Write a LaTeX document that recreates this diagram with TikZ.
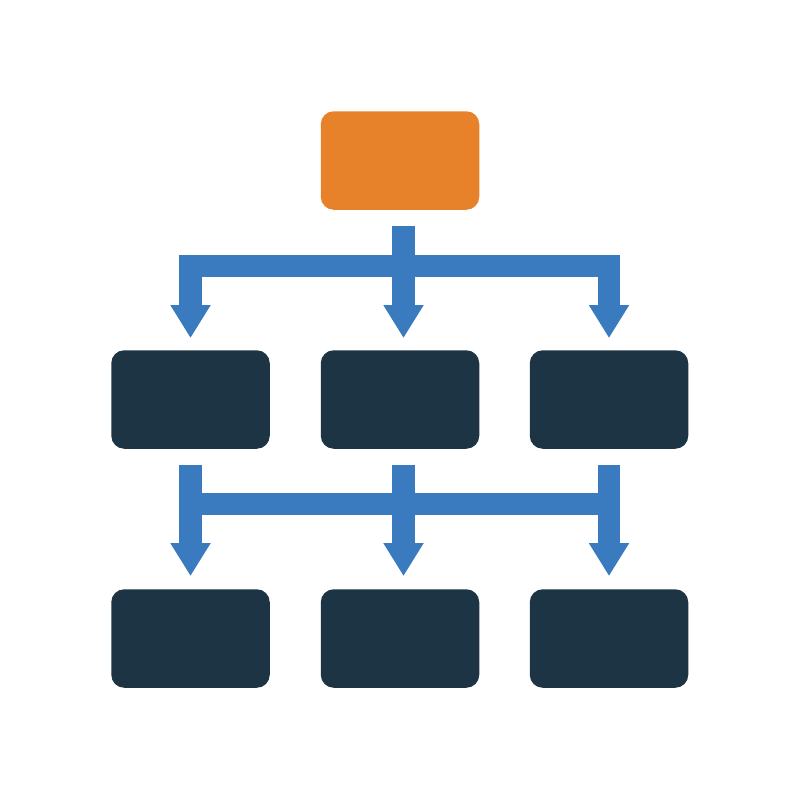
\documentclass[tikz,border=0pt]{standalone}
\usetikzlibrary{arrows.meta,calc}
\definecolor{boxorange}{HTML}{E8822A}
\definecolor{boxnavy}{HTML}{1D3445}
\definecolor{connblue}{HTML}{3A7BC0}
\begin{document}
\begin{tikzpicture}[x=1pt,y=-1pt,
  box/.style={rectangle,rounded corners=13pt,minimum width=158.5pt,minimum height=98.5pt,inner sep=0pt,draw=none},
  topbox/.style={box,fill=boxorange},
  subbox/.style={box,fill=boxnavy},
  conn/.style={draw=connblue,line width=22.6pt,line cap=butt,line join=miter},
  arrowconn/.style={conn,-{Triangle[width=38pt 0 0,length=33pt 0 0,fill=connblue]}}
]
\useasboundingbox[fill=white] (0,0) rectangle (800,800);
% boxes
\node[topbox] (top) at (400,160.5) {};
\node[subbox] (m1) at (190.5,399.5) {};
\node[subbox] (m2) at (400,399.5) {};
\node[subbox] (m3) at (609,399.5) {};
\node[subbox] (b1) at (190.5,638.5) {};
\node[subbox] (b2) at (400,638.5) {};
\node[subbox] (b3) at (609,638.5) {};
% first level connector
\coordinate (j1) at ([xshift=3.5pt]top.south |- 0,266);
\draw[arrowconn] ([xshift=3.5pt,yshift=-16pt]top.south) -- ([xshift=3.5pt,yshift=12pt]m2.north);
\draw[arrowconn] (j1) -| ([yshift=12pt]m1.north);
\draw[arrowconn] (j1) -| ([yshift=12pt]m3.north);
% second level connector
\draw[arrowconn] ([yshift=-16pt]m1.south) -- ([yshift=13pt]b1.north);
\draw[arrowconn] ([xshift=3.5pt,yshift=-16pt]m2.south) -- ([xshift=3.5pt,yshift=13pt]b2.north);
\draw[arrowconn] ([yshift=-16pt]m3.south) -- ([yshift=13pt]b3.north);
\coordinate (j2a) at (m1.south |- 0,504);
\coordinate (j2b) at (m3.south |- 0,504);
\draw[conn] (j2a) -- (j2b);
\end{tikzpicture}
\end{document}
